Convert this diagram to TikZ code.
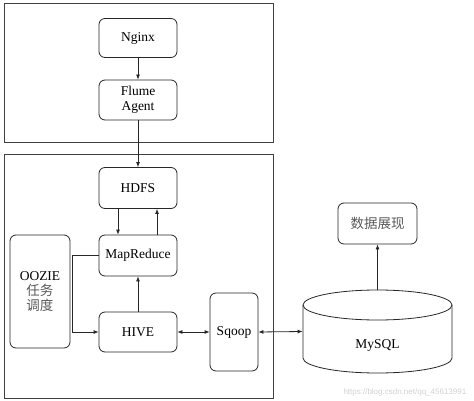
\documentclass[tikz,border=0pt]{standalone}
\usepackage{fontspec}
\setmainfont{Liberation Serif}
\newfontfamily\cjk{Noto Sans CJK SC}
\newfontfamily\wmfont{Liberation Sans}
\usetikzlibrary{arrows.meta}
\begin{document}
\begin{tikzpicture}[x=1pt,y=-1pt,
  line width=0.8pt,
  box/.style={draw=black!85, rounded corners=6pt, align=center, font=\fontsize{13.5}{15}\selectfont, inner sep=0pt},
  cjktext/.style={},
  arr/.style={-{Latex[length=5pt,width=4pt]}, draw=black!85},
  darr/.style={{Latex[length=5pt,width=4pt]}-{Latex[length=5pt,width=4pt]}, draw=black!85},
  frame/.style={draw=black!75}]
\useasboundingbox (0,0) rectangle (474,401);
% frames
\draw[frame] (4,3) rectangle (273,142);
\draw[frame] (4,154) rectangle (273,398);
% nodes
\node[box, minimum width=78pt, minimum height=39pt] (nginx) at (138,38) {Nginx};
\node[box, minimum width=78pt, minimum height=40pt] (flume) at (138,100) {Flume\\Agent};
\node[box, minimum width=78pt, minimum height=41pt] (hdfs) at (138,188) {HDFS};
\node[box, minimum width=78pt, minimum height=41pt] (mr) at (138,255.5) {MapReduce};
\node[box, minimum width=78pt, minimum height=40pt] (hive) at (138,332) {HIVE};
\node[box, minimum width=60pt, minimum height=113pt] (oozie) at (40,291.5) {OOZIE\\{\cjk\color{black!65}任务}\\{\cjk\color{black!65}调度}};
\node[box, minimum width=48pt, minimum height=78pt] (sqoop) at (234,332) {Sqoop};
\node[box, minimum width=79pt, minimum height=41pt] (show) at (377.5,223.5) {{\cjk\color{black!65}数据展现}};
% MySQL cylinder
\draw[black!85] (303,305) -- (303,358) arc[start angle=180, end angle=360, x radius=74.5pt, y radius=15pt] -- (452,305);
\draw[black!85] (377.5,305) ellipse[x radius=74.5pt, y radius=15pt];
\node[minimum width=149pt, minimum height=83pt, inner sep=0pt] (mysql) at (377.5,331.5) {};
\node[font=\fontsize{13.5}{15}\selectfont] (mysqllabel) at (377.5,345) {MySQL};
% connectors
\draw[arr] (nginx.south) -- (flume.north);
\draw[arr] (flume.south) -- (hdfs.north);
\draw[arr] ([xshift=-20pt]hdfs.south) -- ([xshift=-20pt]mr.north);
\draw[arr] ([xshift=19pt]mr.north) -- ([xshift=19pt]hdfs.south);
\draw[arr] (hive.north) -- (mr.south);
\coordinate (oj) at ([xshift=1.5pt]oozie.east);
\draw[arr] (mr.west) -| (oj) |- (hive.west);
\draw[darr] (hive.east) -- (sqoop.west);
\draw[darr] (sqoop.east) -- (mysql.west);
\draw[arr] (mysql.north) -- (show.south);
% watermark
\node[font=\wmfont\fontsize{8}{9}\selectfont, text=black!18, anchor=east] (wm) at (470,392) {https://blog.csdn.net/qq\_45613991};
\end{tikzpicture}
\end{document}
